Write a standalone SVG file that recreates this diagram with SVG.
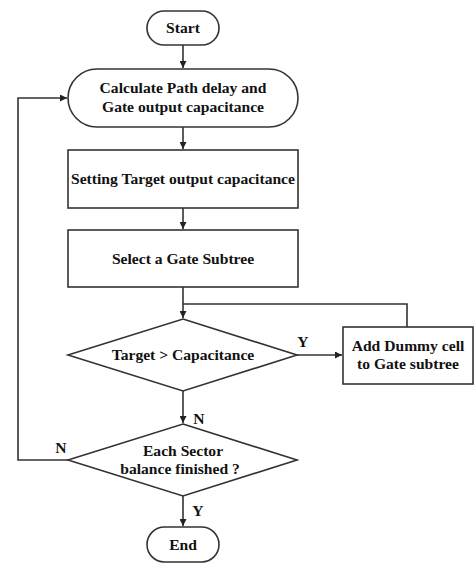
<svg xmlns="http://www.w3.org/2000/svg" width="474" height="573" viewBox="0 0 474 573">
<defs>
<marker id="arr" viewBox="0 0 10 10" refX="10" refY="5" markerWidth="7" markerHeight="7" orient="auto" markerUnits="userSpaceOnUse">
<path d="M0,0 L10,5 L0,10 z" fill="#222"/>
</marker>
<style>
.s{fill:#fff;stroke:#333;stroke-width:1.6}
.t{font-family:"Liberation Serif",serif;font-weight:bold;font-size:15.6px;fill:#111;text-anchor:middle}
.c{fill:none;stroke:#333;stroke-width:1.6}
</style>
</defs>
<rect width="474" height="573" fill="#fff"/>
<g id="connectors">
<path class="c" d="M183,45 V68" marker-end="url(#arr)"/>
<path class="c" d="M183,127 V149" marker-end="url(#arr)"/>
<path class="c" d="M183,208 V229" marker-end="url(#arr)"/>
<path class="c" d="M183,287 V318" marker-end="url(#arr)"/>
<path class="c" d="M183,304 H407 V327"/>
<path class="c" d="M297,355 H342" marker-end="url(#arr)"/>
<path class="c" d="M183,391 V423" marker-end="url(#arr)"/>
<path class="c" d="M68,460 H18 V98 H67" marker-end="url(#arr)"/>
<path class="c" d="M183,496 V526" marker-end="url(#arr)"/>
<text class="t" x="303" y="347">Y</text>
<text class="t" x="199" y="424">N</text>
<text class="t" x="61" y="453">N</text>
<text class="t" x="198" y="516">Y</text>
</g>
<g id="start">
<rect class="s" x="147" y="11" width="72" height="34" rx="17"/>
<text class="t" x="183" y="33">Start</text>
</g>
<g id="calc">
<rect class="s" x="68" y="69" width="230" height="58" rx="29"/>
<text class="t" x="183" y="93">Calculate Path delay and</text>
<text class="t" x="183" y="112">Gate output capacitance</text>
</g>
<g id="setting">
<rect class="s" x="68" y="150" width="230" height="58"/>
<text class="t" x="183" y="184">Setting Target output capacitance</text>
</g>
<g id="select">
<rect class="s" x="68" y="230" width="230" height="57"/>
<text class="t" x="183" y="264">Select a Gate Subtree</text>
</g>
<g id="decision1">
<polygon class="s" points="183,319 297,355 183,391 68,355"/>
<text class="t" x="183" y="360">Target &gt; Capacitance</text>
</g>
<g id="dummy">
<rect class="s" x="343" y="327" width="130" height="57"/>
<text class="t" x="408" y="351">Add Dummy cell</text>
<text class="t" x="408" y="369">to Gate subtree</text>
</g>
<g id="decision2">
<polygon class="s" points="183,424 297,460 183,496 68,460"/>
<text class="t" x="183" y="456">Each Sector</text>
<text class="t" x="180" y="474">balance finished ?</text>
</g>
<g id="end">
<rect class="s" x="147" y="527" width="72" height="35" rx="17.5"/>
<text class="t" x="183" y="550">End</text>
</g>
</svg>
